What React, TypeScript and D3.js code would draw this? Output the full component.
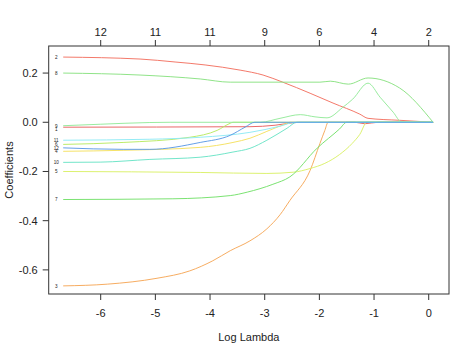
import React from "react";
import * as d3 from "d3";

const varIds = [1, 2, 3, 4, 5, 6, 7, 8, 9, 10, 11, 12];
const colors = ["#E86060", "#F27262", "#F6A858", "#F4E060", "#DAF068", "#B8EA62", "#74E06A", "#8AE282", "#94EA9A", "#6AE4C6", "#8EEAF4", "#5C9AE6"];

const path1: [number, number][] = [[-6.686, -0.020], [-3.27, -0.018], [-2.81, -0.012], [-2.48, -0.002], [-2.35, 0], [-1.35, 0], [-1.17, -0.006], [-0.93, 0], [0.08, 0]];
const path2: [number, number][] = [[-6.686, 0.265], [-5.28, 0.257], [-4.64, 0.245], [-4.09, 0.233], [-3.45, 0.212], [-3.03, 0.192], [-2.67, 0.163], [-2.17, 0.118], [-1.75, 0.078], [-1.26, 0.033], [-1.11, 0.016], [-0.53, 0.008], [0.08, 0]];
const path3: [number, number][] = [[-6.686, -0.665], [-5.88, -0.658], [-4.97, -0.634], [-4.37, -0.604], [-3.95, -0.563], [-3.63, -0.522], [-3.27, -0.482], [-2.96, -0.433], [-2.72, -0.376], [-2.54, -0.318], [-2.17, -0.196], [-1.99, -0.086], [-1.90, -0.033], [-1.84, 0], [0.08, 0]];
const path4: [number, number][] = [[-6.686, -0.118], [-5.59, -0.114], [-4.18, -0.102], [-3.58, -0.082], [-3.27, -0.065], [-2.96, -0.037], [-2.59, -0.004], [-2.54, 0], [0.08, 0]];
const path5: [number, number][] = [[-6.686, -0.2], [-4.18, -0.204], [-2.96, -0.208], [-2.48, -0.203], [-2.17, -0.188], [-1.90, -0.167], [-1.63, -0.131], [-1.40, -0.086], [-1.26, -0.049], [-1.13, 0], [0.08, 0]];
const path6: [number, number][] = [[-6.686, -0.090], [-5.59, -0.082], [-4.37, -0.061], [-3.87, -0.033], [-3.63, -0.004], [-3.58, 0], [0.08, 0]];
const path7: [number, number][] = [[-6.686, -0.314], [-4.68, -0.311], [-3.63, -0.298], [-3.32, -0.284], [-2.85, -0.252], [-2.54, -0.222], [-2.04, -0.105], [-1.63, -0.027], [-1.50, 0], [0.08, 0]];
const path8: [number, number][] = [[-6.686, 0.2], [-5.28, 0.192], [-4.18, 0.176], [-3.63, 0.163], [-1.99, 0.163], [-1.80, 0.167], [-1.47, 0.155], [-1.11, 0.180], [-0.53, 0.139], [0.08, 0]];
const path9: [number, number][] = [[-6.686, -0.014], [-6.01, -0.008], [-5.10, -0.001], [-4.73, 0], [-3.08, 0], [-2.72, 0.016], [-2.35, 0.031], [-2.08, 0.022], [-1.86, 0.018], [-1.57, 0.061], [-1.39, 0.094], [-1.11, 0.159], [-0.89, 0.102], [-0.65, 0.041], [-0.49, 0], [0.08, 0]];
const path10: [number, number][] = [[-6.686, -0.163], [-6.01, -0.162], [-5.10, -0.151], [-4.18, -0.142], [-3.58, -0.121], [-3.27, -0.106], [-2.96, -0.073], [-2.59, -0.024], [-2.41, 0], [0.08, 0]];
const path11: [number, number][] = [[-6.686, -0.073], [-5.10, -0.069], [-4.18, -0.061], [-3.27, -0.041], [-2.72, -0.016], [-2.44, 0], [0.08, 0]];
const path12: [number, number][] = [[-6.686, -0.104], [-5.59, -0.110], [-5.10, -0.110], [-4.18, -0.082], [-3.63, -0.053], [-3.36, -0.020], [-3.18, 0], [0.08, 0]];

const paths = [path1, path2, path3, path4, path5, path6, path7, path8, path9, path10, path11, path12];

const xTicks = [-6, -5, -4, -3, -2, -1, 0];
const topLabels = ["12", "11", "11", "9", "6", "4", "2"];
const yTicks = [0.2, 0.0, -0.2, -0.4, -0.6];

export default function App() {
  const W = 474, H = 355;
  const left = 48.7, right = 449, top = 46, bottom = 294;
  const x = d3.scaleLinear().domain([-6.951, 0.371]).range([left, right]);
  const y = d3.scaleLinear().domain([-0.698, 0.310]).range([bottom, top]);
  const line = d3.line<[number, number]>().x(d => x(d[0])).y(d => y(d[1])).curve(d3.curveMonotoneX);
  const font = "'Liberation Sans', Arial, Helvetica, sans-serif";

  // label positions: start of each path, nudged apart slightly to avoid collisions
  const labelPos = paths.map((p, i) => ({ i, y: y(p[0][1]) + 1.8 }));
  const sorted = [...labelPos].sort((a, b) => a.y - b.y);
  for (let k = 1; k < sorted.length; k++) {
    if (sorted[k].y - sorted[k - 1].y < 3.6) sorted[k].y = sorted[k - 1].y + 3.6;
  }

  return (
    <svg width={W} height={H} style={{ position: "absolute", left: 0, top: 0, background: "#fff" }} fontFamily={font}>
      <rect x={0} y={0} width={W} height={H} fill="#fff" />
      <g>
        {paths.map((p, i) => (
          <path key={i} d={line(p) || ""} fill="none" stroke={colors[i]} strokeWidth={1} strokeOpacity={0.95} />
        ))}
      </g>
      <g fontSize={4.6} fill="#222" textAnchor="middle">
        {labelPos.map(l => (
          <text key={l.i} x={x(paths[l.i][0][0]) - 7} y={l.y}>{varIds[l.i]}</text>
        ))}
      </g>
      <rect x={left} y={top} width={right - left} height={bottom - top} fill="none" stroke="#333" strokeWidth={1} />
      <g fontSize={11} fill="#222">
        {xTicks.map((t, i) => (
          <g key={t}>
            <line x1={x(t)} x2={x(t)} y1={bottom} y2={bottom + 6} stroke="#333" />
            <text x={x(t)} y={bottom + 23} textAnchor="middle">{t}</text>
            <line x1={x(t)} x2={x(t)} y1={top} y2={top - 6} stroke="#333" />
            <text x={x(t)} y={top - 10} textAnchor="middle">{topLabels[i]}</text>
          </g>
        ))}
        {yTicks.map(t => (
          <g key={t}>
            <line x1={left} x2={left - 6} y1={y(t)} y2={y(t)} stroke="#333" />
            <text x={left - 11} y={y(t) + 4} textAnchor="end">{t.toFixed(1)}</text>
          </g>
        ))}
        <text x={(left + right) / 2} y={341} textAnchor="middle">Log Lambda</text>
        <text transform={`translate(13, ${(top + bottom) / 2}) rotate(-90)`} textAnchor="middle">Coefficients</text>
      </g>
    </svg>
  );
}
